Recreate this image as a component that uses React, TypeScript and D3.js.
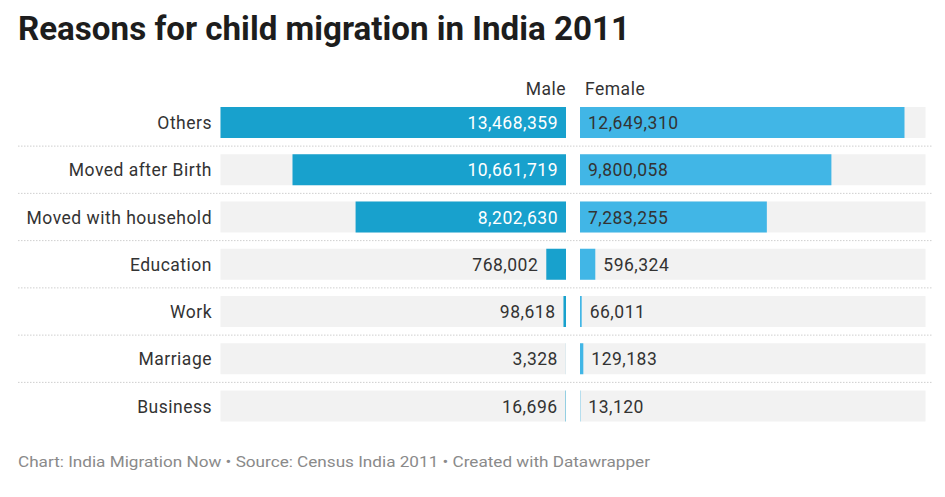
import React from "react";
import * as d3 from "d3";

const categories = ["Others", "Moved after Birth", "Moved with household", "Education", "Work", "Marriage", "Business"];
const maleValues = [13468359, 10661719, 8202630, 768002, 98618, 3328, 16696];
const femaleValues = [12649310, 9800058, 7283255, 596324, 66011, 129183, 13120];
const seriesNames = ["Male", "Female"];

const W = 945;
const H = 497;
const FONT = "Roboto, 'Noto Sans', sans-serif";
const FS = 17.5;
const LS = 0.5;

let ctx: CanvasRenderingContext2D | null = null;
function measure(t: string, size = FS) {
  if (!ctx) ctx = document.createElement("canvas").getContext("2d");
  if (!ctx) return t.length * size * 0.55;
  ctx.font = `${size}px Roboto`;
  return ctx.measureText(t).width + t.length * LS;
}

export default function App() {
  const fmt = d3.format(",");
  const y = d3.scaleBand<string>().domain(categories).range([107, 421.5]).paddingInner(0.344).paddingOuter(0);
  const maxV = d3.max([...maleValues, ...femaleValues]) as number;
  const panelW = 345.5;
  const x = d3.scaleLinear().domain([0, maxV]).range([0, panelW]);
  const maleRight = 566;
  const femaleLeft = 580;
  const maleColor = "#18a1cd";
  const femaleColor = "#41b6e6";
  const bw = y.bandwidth();
  const step = y.step();
  const textStyle = { letterSpacing: `${LS}px` } as React.CSSProperties;

  return (
    <svg width={W} height={H} style={{ position: "absolute", left: 0, top: 0, background: "#fff" }} fontFamily={FONT}>
      <rect x={0} y={0} width={W} height={H} fill="#fff" />
      <text x={18} y={40} fontSize={33} fontWeight={700} fill="#1d1d1d" textLength={612} lengthAdjust="spacingAndGlyphs">Reasons for child migration in India 2011</text>
      <text x={maleRight} y={95} fontSize={FS} fill="#333" textAnchor="end" style={textStyle}>{seriesNames[0]}</text>
      <text x={femaleLeft + 5} y={95} fontSize={FS} fill="#333" style={textStyle}>{seriesNames[1]}</text>
      {categories.map((c, i) => {
        const top = y(c) as number;
        const cy = top + bw / 2;
        const mv = maleValues[i];
        const fv = femaleValues[i];
        const mw = x(mv);
        const fw = x(fv);
        const ml = fmt(mv);
        const fl = fmt(fv);
        const mInside = mw > measure(ml) + 16;
        const fInside = fw > measure(fl) + 16;
        return (
          <g key={c}>
            {i > 0 && (
              <line x1={18} x2={933} y1={top - (step - bw) / 2} y2={top - (step - bw) / 2} stroke="#cfcfcf" strokeWidth={1} strokeDasharray="1.5,1.5" />
            )}
            <text x={212} y={cy} dy="0.38em" fontSize={FS} fill="#333" textAnchor="end" style={textStyle}>{c}</text>
            <rect x={maleRight - panelW} y={top} width={panelW} height={bw} fill="#f2f2f2" />
            <rect x={femaleLeft} y={top} width={panelW} height={bw} fill="#f2f2f2" />
            <rect x={maleRight - mw} y={top} width={mw} height={bw} fill={maleColor} />
            <rect x={femaleLeft} y={top} width={fw} height={bw} fill={femaleColor} />
            <text x={mInside ? maleRight - 8 : maleRight - mw - 8} y={cy} dy="0.38em" fontSize={FS} textAnchor="end" fill={mInside ? "#fff" : "#333"} style={textStyle}>{ml}</text>
            <text x={fInside ? femaleLeft + 8 : femaleLeft + fw + 8} y={cy} dy="0.38em" fontSize={FS} textAnchor="start" fill="#333" style={textStyle}>{fl}</text>
          </g>
        );
      })}
      <text x={18} y={467} fontSize={15.5} fill="#8a8a8a" textLength={632} lengthAdjust="spacingAndGlyphs">Chart: India Migration Now • Source: Census India 2011 • Created with Datawrapper</text>
    </svg>
  );
}
